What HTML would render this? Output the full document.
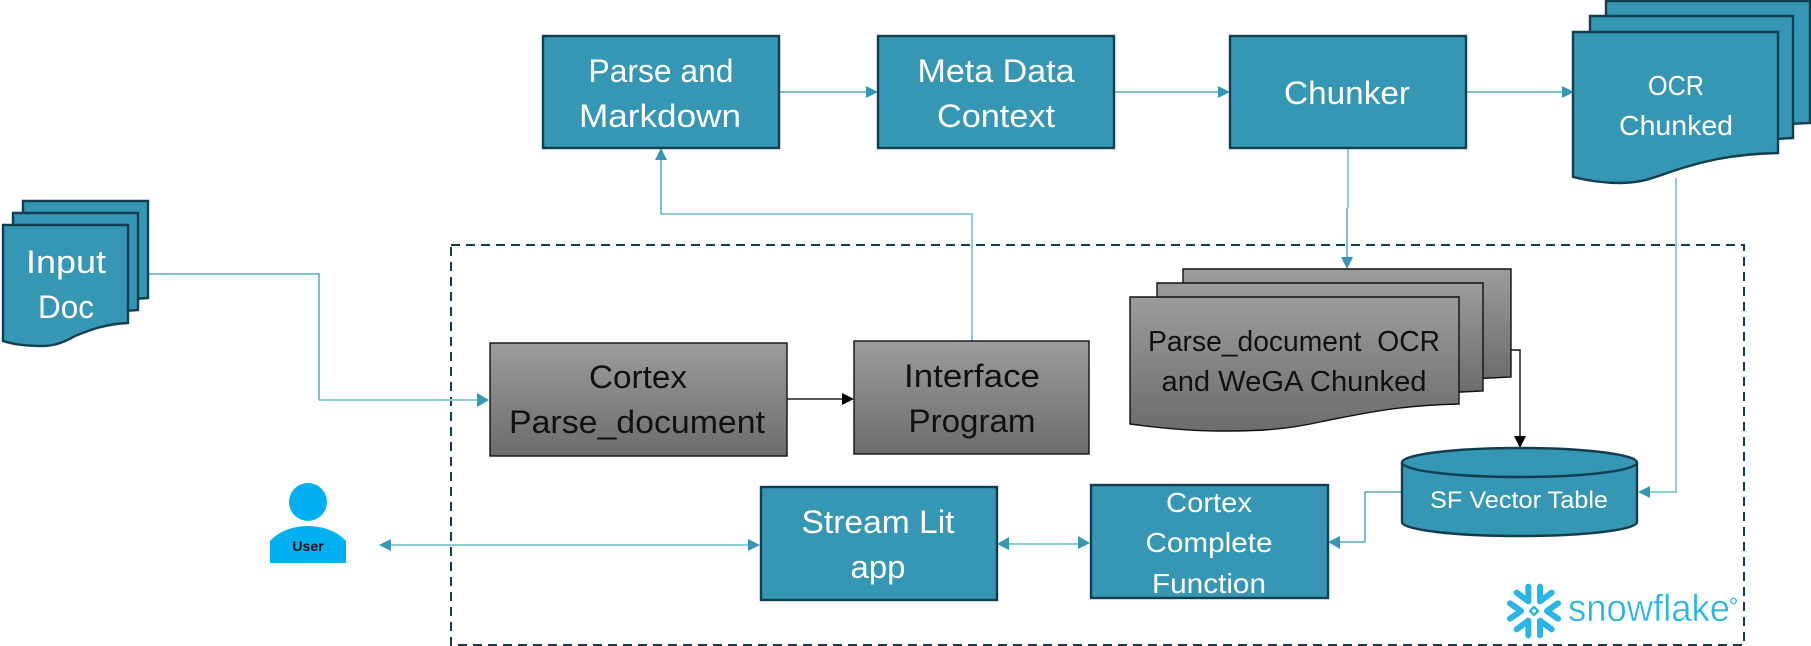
<!DOCTYPE html>
<html><head><meta charset="utf-8"><style>
html,body{margin:0;padding:0;background:#fff}
svg{display:block}
text{font-family:"Liberation Sans",sans-serif;text-anchor:middle;fill:#fff}
.d text,text.d{fill:#111}
.b{fill:#3597B3;stroke:#123F50;stroke-width:2.4}
.g{fill:url(#gr);stroke:#111;stroke-width:1.4}
.l{fill:none;stroke:#3A9AB5;stroke-width:1.3}
.m{fill:none;stroke:#8FCAD9;stroke-width:2}
.a{fill:#3597B3;stroke:none}
</style></head><body>
<svg width="1811" height="646" viewBox="0 0 1811 646" xmlns="http://www.w3.org/2000/svg">
<defs><linearGradient id="gr" x1="0" y1="0" x2="0" y2="1"><stop offset="0" stop-color="#9c9c9c"/><stop offset="1" stop-color="#6c6c6c"/></linearGradient></defs>

<!-- dashed boundary -->
<rect x="451" y="245" width="1293" height="400" fill="none" stroke="#123F50" stroke-width="2" stroke-dasharray="9 6"/>

<!-- connectors -->
<path class="l" d="M779 92H868"/><polygon class="a" points="866,86 878,92 866,98"/>
<path class="l" d="M1114 92H1220"/><polygon class="a" points="1218,86 1230,92 1218,98"/>
<path class="l" d="M1466 92H1564"/><polygon class="a" points="1562,86 1574,92 1562,98"/>
<path class="m" d="M1348 148V208"/><path class="l" d="M1347 208V258"/><polygon class="a" points="1341,257 1353,257 1347,269"/>
<path class="m" d="M972 341V214H661"/><path class="l" d="M661 214V160"/><polygon class="a" points="655,160 667,160 661,148"/>
<path class="l" d="M148 274H319V400"/><path class="m" d="M319 400H480"/><polygon class="a" points="477,393 489,400 477,407"/>
<path d="M787 399H846" stroke="#222" stroke-width="1.6" fill="none"/><polygon points="842,393 854,399 842,405" fill="#000"/>
<path d="M1511 350H1520V437" stroke="#111" stroke-width="1.4" fill="none"/><polygon points="1514,436 1526,436 1520,448" fill="#000"/>
<path class="m" d="M1676 178V492H1648"/><polygon class="a" points="1650,486 1650,498 1638,492"/>
<path class="l" d="M1402 492H1365V542H1338"/><polygon class="a" points="1340,536 1340,549 1328,542"/>
<path class="m" d="M1007 544H1080"/><polygon class="a" points="1009,537 1009,550 997,544"/><polygon class="a" points="1078,536 1078,549 1090,543"/>
<path class="m" d="M390 545H750"/><polygon class="a" points="391,539 391,551 379,545"/><polygon class="a" points="748,539 748,551 760,545"/>

<!-- top row -->
<rect class="b" x="543" y="36" width="236" height="112"/>
<text x="661" y="82" font-size="32" textLength="145" lengthAdjust="spacingAndGlyphs">Parse and</text>
<text x="660" y="127" font-size="32" textLength="162" lengthAdjust="spacingAndGlyphs">Markdown</text>
<rect class="b" x="878" y="36" width="236" height="112"/>
<text x="996" y="82" font-size="32" textLength="157" lengthAdjust="spacingAndGlyphs">Meta Data</text>
<text x="996" y="127" font-size="32" textLength="118" lengthAdjust="spacingAndGlyphs">Context</text>
<rect class="b" x="1230" y="36" width="236" height="112"/>
<text x="1347" y="104" font-size="32" textLength="126" lengthAdjust="spacingAndGlyphs">Chunker</text>

<!-- OCR docs -->
<path class="b" d="M1606 1H1810V123L1770 125H1606Z"/>
<path class="b" d="M1590 16H1793V138L1760 140H1590Z"/>
<path class="b" d="M1573 32H1778V153C1730 154 1700 162 1670 172C1650 179 1640 183 1620 183C1600 183 1585 180 1573 177Z"/>
<text x="1676" y="95" font-size="28" textLength="56" lengthAdjust="spacingAndGlyphs">OCR</text>
<text x="1676" y="135" font-size="28" textLength="114" lengthAdjust="spacingAndGlyphs">Chunked</text>

<!-- Input docs -->
<path class="b" d="M23 201H148V298L120 300H23Z"/>
<path class="b" d="M13 213H138V310L110 312H13Z"/>
<path class="b" d="M3 225H128V323C105 324 90 330 75 336C65 342 55 346 43 346C28 346 15 345 3 341Z"/>
<text x="66" y="273" font-size="32" textLength="80" lengthAdjust="spacingAndGlyphs">Input</text>
<text x="66" y="318" font-size="32" textLength="56" lengthAdjust="spacingAndGlyphs">Doc</text>

<!-- gray -->
<rect class="g" x="490" y="343" width="297" height="113"/>
<text class="d" x="638" y="388" font-size="32" textLength="98" lengthAdjust="spacingAndGlyphs">Cortex</text>
<text class="d" x="637" y="433" font-size="32" textLength="256" lengthAdjust="spacingAndGlyphs">Parse_document</text>
<rect class="g" x="854" y="341" width="235" height="113"/>
<text class="d" x="972" y="387" font-size="32" textLength="136" lengthAdjust="spacingAndGlyphs">Interface</text>
<text class="d" x="972" y="432" font-size="32" textLength="127" lengthAdjust="spacingAndGlyphs">Program</text>

<path class="g" d="M1183 269H1511V377L1470 379H1183Z"/>
<path class="g" d="M1157 283H1483V391L1440 393H1157Z"/>
<path class="g" d="M1130 297H1459V404C1400 405 1360 414 1320 422C1280 431 1250 431 1220 431C1190 431 1160 428 1130 424Z"/>
<text class="d" x="1294" y="351" font-size="29" xml:space="preserve" textLength="292" lengthAdjust="spacingAndGlyphs">Parse_document  OCR</text>
<text class="d" x="1294" y="391" font-size="29" textLength="265" lengthAdjust="spacingAndGlyphs">and WeGA Chunked</text>

<!-- bottom row -->
<rect class="b" x="761" y="487" width="236" height="113"/>
<text x="878" y="533" font-size="32" textLength="153" lengthAdjust="spacingAndGlyphs">Stream Lit</text>
<text x="878" y="578" font-size="32" textLength="55" lengthAdjust="spacingAndGlyphs">app</text>
<rect class="b" x="1091" y="485" width="237" height="113"/>
<text x="1209" y="512" font-size="28" textLength="86" lengthAdjust="spacingAndGlyphs">Cortex</text>
<text x="1209" y="552" font-size="28" textLength="127" lengthAdjust="spacingAndGlyphs">Complete</text>
<text x="1209" y="593" font-size="28" textLength="114" lengthAdjust="spacingAndGlyphs">Function</text>

<!-- cylinder -->
<path class="b" d="M1402 462V522C1402 530 1455 536 1519.500 536S1637 530 1637 522V462"/>
<ellipse class="b" cx="1519.500" cy="462.500" rx="117.500" ry="14.500"/>
<text x="1519" y="508" font-size="24.500" textLength="178" lengthAdjust="spacingAndGlyphs">SF Vector Table</text>

<!-- user -->
<circle cx="308" cy="502" r="19" fill="#00B0F0"/>
<path d="M270 563V541C278 532 292 526 308 526S338 532 346 541V563Z" fill="#00B0F0"/>
<text x="308" y="551" font-size="14" font-weight="bold" style="fill:#111">User</text>

<!-- snowflake logo -->
<g transform="translate(1500 560) scale(.3333)" fill="none" stroke="#29B5E8" stroke-width="18" stroke-linecap="round" stroke-linejoin="round">
<path d="M50 98L85 124V80"/><path d="M155 98L120 124V80"/>
<path d="M30 130L63 153L30 176"/><path d="M174 130L141 153L174 176"/>
<path d="M50 208L85 182V226"/><path d="M155 208L120 182V226"/>
<path d="M102 141L114 153L102 165L90 153Z" stroke-width="7"/>
</g>
<text x="1649" y="621" font-size="38" textLength="162" lengthAdjust="spacingAndGlyphs" style="fill:#29B5E8;stroke:#fff;stroke-width:.5">snowflake</text>
<circle cx="1733.500" cy="601" r="2.800" fill="none" stroke="#29B5E8" stroke-width="1.200"/>
</svg>
</body></html>
